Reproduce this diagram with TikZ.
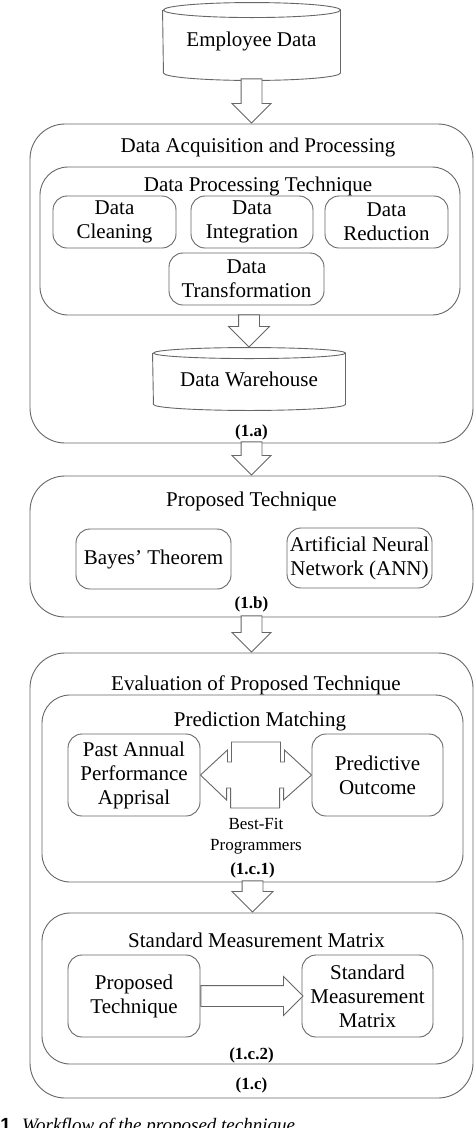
\documentclass[tikz,border=0pt]{standalone}
\usepackage{fontspec}
\setmainfont{Liberation Serif}
\setsansfont{Liberation Sans}
\usetikzlibrary{shapes.arrows}

\begin{document}
\begin{tikzpicture}[x=1pt, y=-1pt, font=\fontsize{21}{24}\selectfont, line width=0.9pt]
    \tikzstyle{big_box} = [draw=black!60, rounded corners=35pt, inner sep=0pt]
    \tikzstyle{mid_box} = [draw=black!60, rounded corners=28pt, inner sep=0pt]
    \tikzstyle{item_box} = [draw=black!60, rounded corners=14pt, align=center, inner sep=1pt]
    \tikzstyle{db_node} = [inner sep=0pt]
    \tikzstyle{db_line} = [draw=black!60]
    \tikzstyle{title_text} = [anchor=base, inner sep=0pt]
    \tikzstyle{tag_text} = [anchor=base, inner sep=0pt, font=\fontsize{17}{21}\selectfont\bfseries]
    \tikzstyle{small_text} = [align=center, inner sep=0pt, font=\fontsize{17}{21}\selectfont]
    \tikzstyle{block_arrow} = [draw=black!60, fill=white, single arrow, inner xsep=0pt, inner ysep=10pt, minimum width=38pt, single arrow head extend=9pt]
    \tikzstyle{down_arrow} = [block_arrow, rotate=-90, anchor=tip]
    \tikzstyle{right_arrow} = [block_arrow, anchor=tail]

    \useasboundingbox (0,0) rectangle (474,1128);

    % employee data
    \node[db_node, minimum width=177pt, minimum height=77pt] (emp) at (251.5,41.5) {Employee Data};
    \draw[db_line] ([yshift=-7.5pt]emp.north east) arc[start angle=0, end angle=360, x radius=88.5pt, y radius=7.5pt]
        -- ([yshift=7.5pt]emp.south east) arc[start angle=0, end angle=-180, x radius=88.5pt, y radius=7.5pt]
        -- ([yshift=-7.5pt]emp.north west);

    % (1.a)
    \node[big_box, minimum width=443pt, minimum height=319pt] (acq) at (251.5,283.5) {};
    \node[title_text] (tacq) at (258,152) {Data Acquisition and Processing};
    \node[mid_box, minimum width=420pt, minimum height=148pt] (dpt) at (250,241) {};
    \node[title_text] (tdpt) at (258,191) {Data Processing Technique};
    \node[item_box, minimum width=123pt, minimum height=52pt] (clean) at (114.5,222) {Data\\Cleaning};
    \node[item_box, minimum width=122pt, minimum height=52pt] (integ) at (252,222) {Data\\Integration};
    \node[item_box, minimum width=123pt, minimum height=52pt] (reduc) at (386.5,222) {Data\\Reduction};
    \node[item_box, minimum width=155pt, minimum height=52pt] (transf) at (246.5,279) {Data\\Transformation};
    \node[db_node, minimum width=192pt, minimum height=62pt] (wh) at (249,379) {Data Warehouse};
    \draw[db_line] ([yshift=-5.5pt]wh.north east) arc[start angle=0, end angle=360, x radius=96pt, y radius=5.5pt]
        -- ([yshift=6pt]wh.south east) arc[start angle=0, end angle=-180, x radius=96pt, y radius=6pt]
        -- ([yshift=-5.5pt]wh.north west);
    \node[tag_text] (taga) at (251.5,436) {(1.a)};

    % (1.b)
    \node[big_box, minimum width=443pt, minimum height=141pt] (prop) at (251.5,546.5) {};
    \node[title_text] (tprop) at (251.5,506) {Proposed Technique};
    \node[item_box, minimum width=155pt, minimum height=60pt] (bayes) at (153.5,559) {Bayes' Theorem};
    \node[item_box, minimum width=145pt, minimum height=60pt] (ann) at (359.5,558) {Artificial Neural\\Network (ANN)};
    \node[tag_text] (tagb) at (251.5,608) {(1.b)};

    % (1.c)
    \node[big_box, minimum width=443pt, minimum height=445pt] (eval) at (251.5,875.5) {};
    \node[title_text] (teval) at (256,690) {Evaluation of Proposed Technique};

    \node[mid_box, minimum width=421pt, minimum height=187pt] (pm) at (252.5,788.5) {};
    \node[title_text] (tpm) at (260,726) {Prediction Matching};
    \node[item_box, minimum width=132pt, minimum height=82pt] (past) at (134,775) {Past Annual\\Performance\\Apprisal};
    \node[item_box, minimum width=131pt, minimum height=82pt] (pred) at (377.5,775) {Predictive\\Outcome};
    \draw[db_line, fill=white] (past.east) -- ++(27,-25) -- ++(0,12) -- ++(4,0) -- ++(0,-20) -- ++(49,0)
        -- ++(0,20) -- ++(4,0) -- ++(0,-12) -- (pred.west) -- ++(-28,25) -- ++(0,-12) -- ++(-4,0)
        -- ++(0,20) -- ++(-49,0) -- ++(0,-20) -- ++(-4,0) -- ++(0,12) -- cycle;
    \node[small_text] (bestfit) at (256,836) {Best-Fit\\Programmers};
    \node[tag_text] (tagc1) at (252.5,874) {(1.c.1)};

    \node[mid_box, minimum width=421pt, minimum height=151pt] (smm) at (252.5,988.5) {};
    \node[title_text] (tsmm) at (256.5,947) {Standard Measurement Matrix};
    \node[item_box, minimum width=132pt, minimum height=82pt] (ptech) at (134,996) {Proposed\\Technique};
    \node[item_box, minimum width=131pt, minimum height=82pt] (smmx) at (367.5,996) {Standard\\Measurement\\Matrix};
    \node[right_arrow, minimum height=102pt] (a6) at (ptech.east) {};
    \node[tag_text] (tagc2) at (251.5,1059) {(1.c.2)};
    \node[tag_text] (tagc) at (251.5,1089) {(1.c)};

    % block arrows between stages
    \node[down_arrow, minimum height=44pt] (a1) at (acq.north) {};
    \node[down_arrow, minimum height=32pt, minimum width=40pt, single arrow head extend=10pt] (a2) at (wh.north) {};
    \node[down_arrow, minimum height=33pt] (a3) at (prop.north) {};
    \node[down_arrow, minimum height=36pt] (a4) at (eval.north) {};
    \node[down_arrow, minimum height=31pt, minimum width=40pt, single arrow head extend=10pt] (a5) at (smm.north) {};

    \node[anchor=base west, inner sep=0pt] (caption) at (0,1131) {{\sffamily\bfseries\fontsize{19}{22}\selectfont 1}\hspace{11pt}{\itshape\fontsize{19}{22}\selectfont Workflow of the proposed technique}};
\end{tikzpicture}
\end{document}
